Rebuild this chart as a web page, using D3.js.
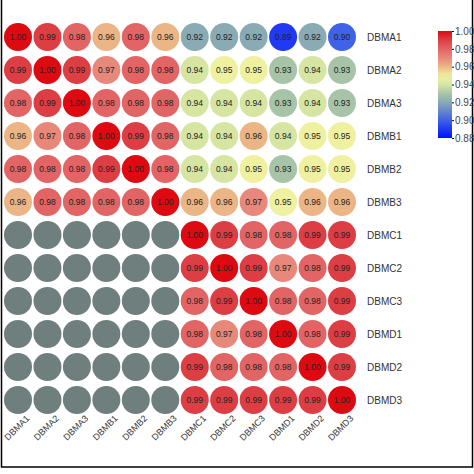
<!DOCTYPE html><html><head><meta charset="utf-8"><script src="https://cdn.jsdelivr.net/npm/d3@7"></script>
<style>body{margin:0;background:#fff}text{font-family:Arial,"Liberation Sans",sans-serif}</style></head><body><svg id="c" width="474" height="474"></svg><script>
const labels=["DBMA1","DBMA2","DBMA3","DBMB1","DBMB2","DBMB3","DBMC1","DBMC2","DBMC3","DBMD1","DBMD2","DBMD3"];
const rowsA=[
[1.00,0.99,0.98,0.96,0.98,0.96,0.92,0.92,0.92,0.89,0.92,0.90],
[0.99,1.00,0.99,0.97,0.98,0.98,0.94,0.95,0.95,0.93,0.94,0.93],
[0.98,0.99,1.00,0.98,0.98,0.98,0.94,0.94,0.94,0.93,0.94,0.93],
[0.96,0.97,0.98,1.00,0.99,0.98,0.94,0.94,0.96,0.94,0.95,0.95],
[0.98,0.98,0.98,0.99,1.00,0.98,0.94,0.94,0.95,0.93,0.95,0.95],
[0.96,0.98,0.98,0.98,0.98,1.00,0.96,0.96,0.97,0.95,0.96,0.96]];
const rowsC=[
[1.00,0.99,0.98,0.98,0.99,0.99],
[0.99,1.00,0.99,0.97,0.98,0.99],
[0.98,0.99,1.00,0.98,0.98,0.99],
[0.98,0.97,0.98,1.00,0.98,0.99],
[0.99,0.98,0.98,0.98,1.00,0.99],
[0.99,0.99,0.99,0.99,0.99,1.00]];
const cbTicks=[0.88,0.90,0.92,0.94,0.96,0.98,1.00];
const svg=d3.select("#c");
svg.append("rect").attr("x",1.5).attr("y",-5).attr("width",471).attr("height",472).attr("fill","none").attr("stroke","#000").attr("stroke-width",1.5);
const x=d3.scalePoint().domain(labels).range([18,342]);
const y=d3.scalePoint().domain(labels).range([37,400]);
const col=d3.scaleLinear().domain([0.88,0.90,0.92,0.93,0.94,0.95,0.96,0.97,0.98,0.99,1.0])
 .range(["#0010ff","#3f62e6","#8aaab4","#a8c4a8","#d6e6a2","#eff1a0","#ebb585","#e8887a","#e26464","#dc3e44","#dd0a12"]).clamp(true);
const cells=[];
rowsA.forEach((r,i)=>r.forEach((v,j)=>cells.push({r:labels[i],c:labels[j],v})));
rowsC.forEach((r,i)=>{labels.slice(0,6).forEach(c=>cells.push({r:labels[i+6],c,v:null}));r.forEach((v,j)=>cells.push({r:labels[i+6],c:labels[j+6],v}))});
const g=svg.append("g");
g.selectAll("circle").data(cells).join("circle").attr("cx",d=>x(d.c)).attr("cy",d=>y(d.r)).attr("r",14)
 .attr("fill",d=>d.v==null?"#6f7f7d":col(d.v));
g.selectAll("text.v").data(cells.filter(d=>d.v!=null)).join("text").attr("class","v")
 .attr("x",d=>x(d.c)).attr("y",d=>y(d.r)+3).attr("text-anchor","middle").attr("font-size",8.5).attr("fill","#222").text(d=>d.v.toFixed(2));
svg.append("g").selectAll("text").data(labels).join("text").attr("x",367).attr("y",d=>y(d)+4).attr("font-size",10).attr("fill","#333").text(d=>d);
svg.append("g").selectAll("text").data(labels).join("text")
 .attr("transform",d=>`translate(${x(d)+12},${419}) rotate(-45)`).attr("text-anchor","end").attr("font-size",9).attr("fill","#333").text(d=>d);
// colorbar
const cy=d3.scaleLinear().domain([0.88,1.0]).range([138,31]);
const defs=svg.append("defs").append("linearGradient").attr("id","gr").attr("x1",0).attr("y1",1).attr("x2",0).attr("y2",0);
d3.range(0,1.001,0.05).forEach(t=>defs.append("stop").attr("offset",t).attr("stop-color",col(0.88+0.12*t)));
svg.append("rect").attr("x",438).attr("y",31).attr("width",14).attr("height",107).attr("fill","url(#gr)");
const ax=svg.append("g").attr("transform","translate(452,0)").call(d3.axisRight(cy).tickValues(cbTicks).tickSize(2).tickFormat(d3.format(".2f")));
ax.select(".domain").remove();ax.selectAll("text").attr("font-size",10).attr("fill","#444").attr("dx",-2);
</script></body></html>
